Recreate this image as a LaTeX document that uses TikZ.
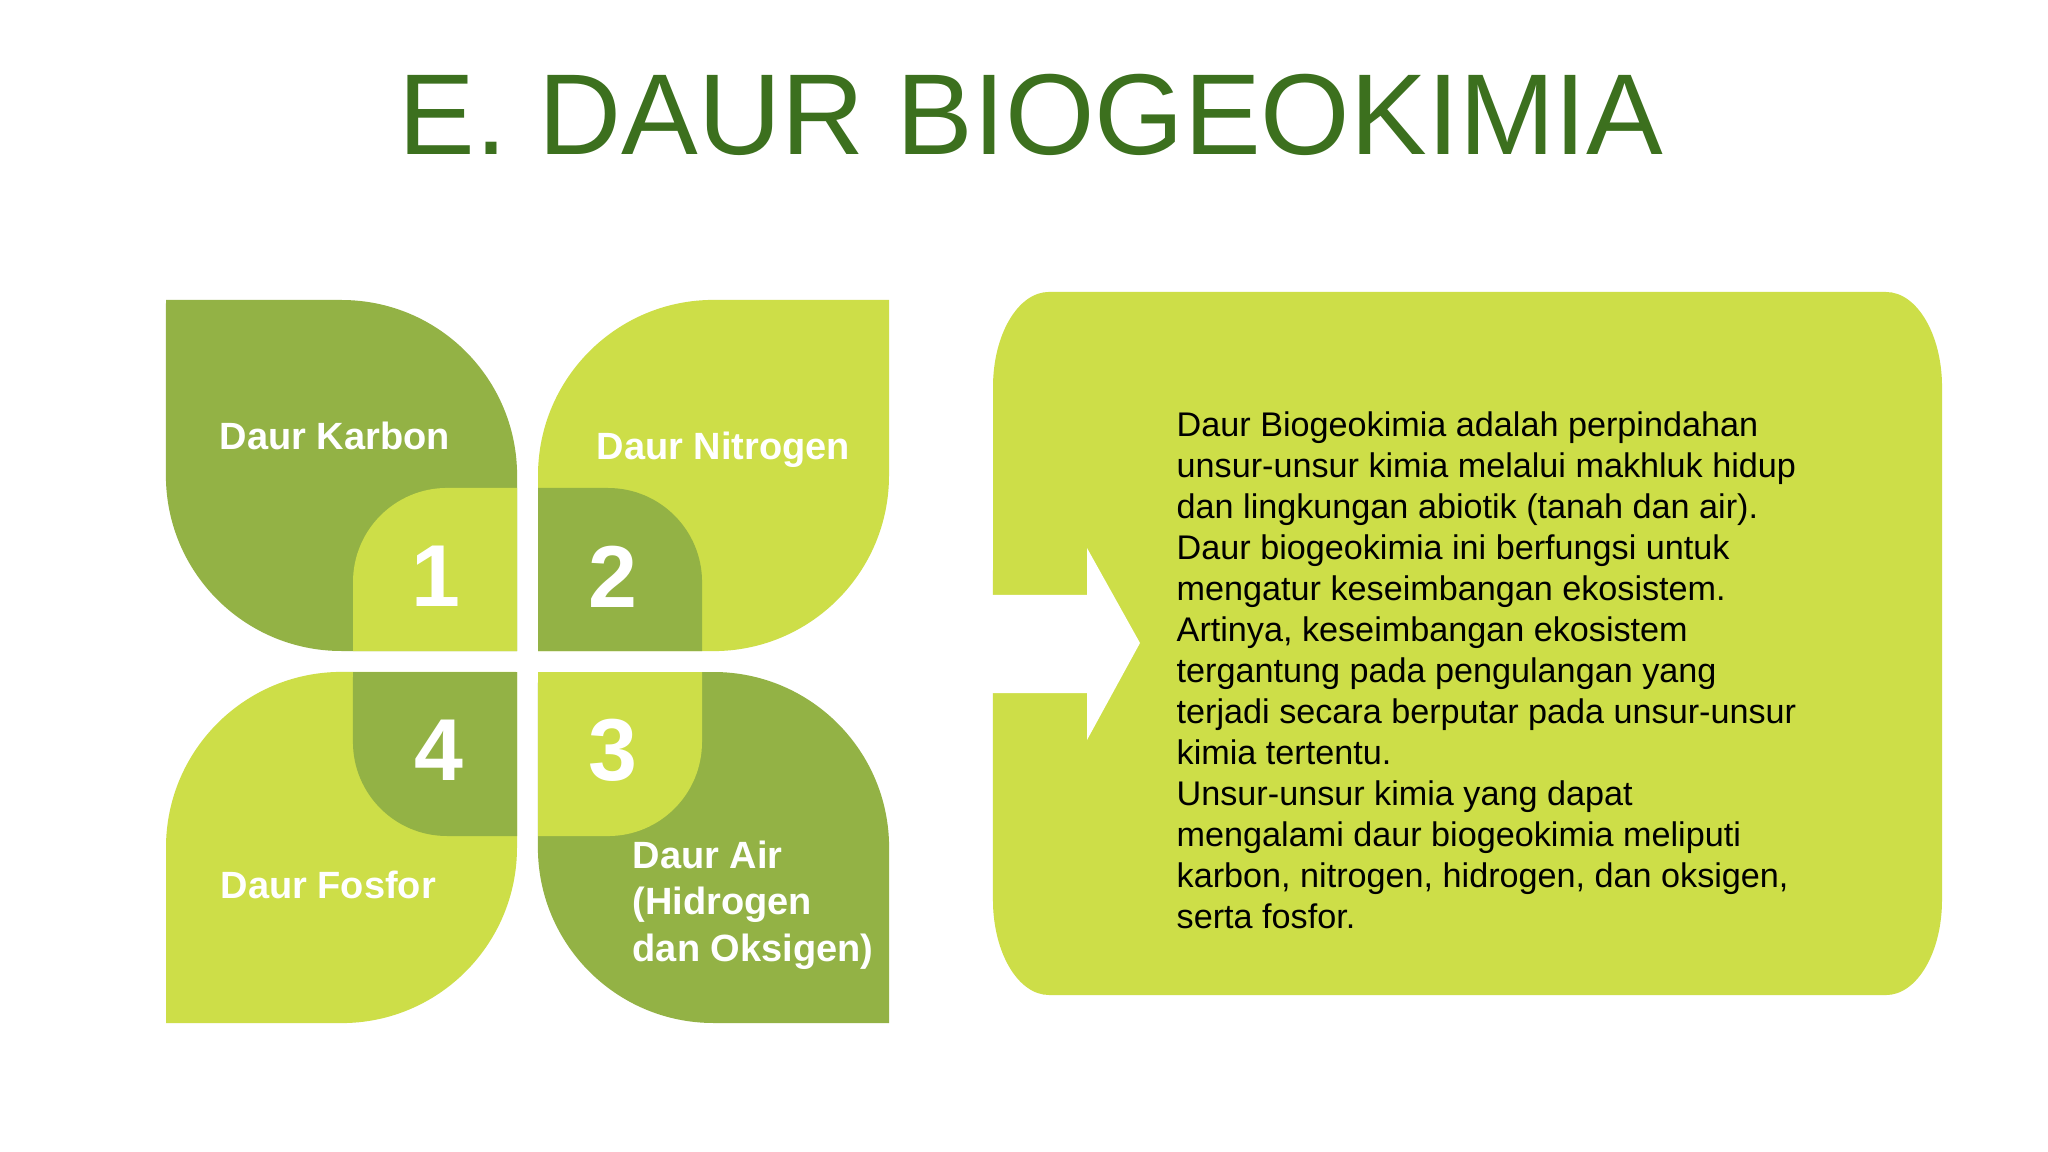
\documentclass[tikz,border=0pt]{standalone}
\usepackage{fontspec}
\setmainfont{Liberation Sans}
\usepackage{tikz}
\usetikzlibrary{positioning,calc}
\definecolor{leafdark}{HTML}{93B245}
\definecolor{leaflight}{HTML}{CDDE48}
\definecolor{titlegreen}{HTML}{3C701E}

\begin{document}
\begin{tikzpicture}[x=0.01cm,y=-0.01cm,
  heading/.style={inner sep=0pt,text=titlegreen,font=\fontsize{32.7}{39}\selectfont},
  leaftext/.style={inner sep=0pt,text=white,align=left,font=\bfseries\fontsize{10.8}{13.1}\selectfont},
  numtext/.style={inner sep=0pt,text=white,font=\bfseries\fontsize{25}{30}\selectfont},
  desctext/.style={inner sep=0pt,text=black,align=left,font=\fontsize{9.72}{11.65}\selectfont}]
\fill[white] (0,0) rectangle (2048,1152);
\node[heading,anchor=base] (title) at (1031,155) {E. DAUR BIOGEOKIMIA};
% leaves
\fill[leafdark] (166,300) -- (341.5,300) arc[start angle=90,end angle=0,radius=1.755cm] -- (517,651) -- (341.5,651) arc[start angle=270,end angle=180,radius=1.755cm] -- cycle;
\fill[leaflight] (538,475.5) arc[start angle=180,end angle=90,radius=1.755cm] -- (889,300) -- (889,475.5) arc[start angle=0,end angle=-90,radius=1.755cm] -- (538,651) -- cycle;
\fill[leafdark] (538,672) -- (713.5,672) arc[start angle=90,end angle=0,radius=1.755cm] -- (889,1023) -- (713.5,1023) arc[start angle=270,end angle=180,radius=1.755cm] -- cycle;
\fill[leaflight] (166,847.5) arc[start angle=180,end angle=90,radius=1.755cm] -- (517,672) -- (517,847.5) arc[start angle=0,end angle=-90,radius=1.755cm] -- (166,1023) -- cycle;
% inner pieces
\fill[leaflight] (353,582) arc[start angle=180,end angle=90,radius=0.94cm] -- (517,488) -- (517,651) -- (353,651) -- cycle;
\fill[leafdark] (538,488) -- (608,488) arc[start angle=90,end angle=0,radius=0.94cm] -- (702,651) -- (538,651) -- cycle;
\fill[leaflight] (538,672) -- (702,672) -- (702,742) arc[start angle=0,end angle=-90,radius=0.94cm] -- (538,836) -- cycle;
\fill[leafdark] (517,672) -- (517,836) -- (447,836) arc[start angle=270,end angle=180,radius=0.94cm] -- (353,672) -- cycle;
\node[numtext] (n1) at (436,576) {1};
\node[numtext] (n2) at (613,577) {2};
\node[numtext] (n3) at (613,750) {3};
\node[numtext] (n4) at (439,750) {4};
\node[leaftext,anchor=base west] (karbon) at (219,450) {Daur Karbon};
\node[leaftext,anchor=base west] (nitrogen) at (596,460) {Daur Nitrogen};
\node[leaftext,anchor=base west] (fosfor) at (220,898) {Daur Fosfor};
% base of a multi-line node = last line
\node[leaftext,anchor=base west] (air) at (632,961) {Daur Air\\(Hidrogen\\dan Oksigen)};
% panel with arrow
\fill[leaflight] (1049,292) -- (1886,292) arc[start angle=90,end angle=0,x radius=0.56cm,y radius=0.95cm] -- (1942,900) arc[start angle=0,end angle=-90,x radius=0.56cm,y radius=0.95cm] -- (1049,995) arc[start angle=270,end angle=180,x radius=0.56cm,y radius=0.95cm] -- (993,387) arc[start angle=180,end angle=90,x radius=0.56cm,y radius=0.95cm] -- cycle;
\fill[white] (990,595) -- (1087,595) -- (1087,548) -- (1140,643) -- (1087,740) -- (1087,693) -- (990,693) -- cycle;
\node[desctext,anchor=base west] (desc) at (1176,928) {Daur Biogeokimia adalah perpindahan\\
unsur-unsur kimia melalui makhluk hidup\\
dan lingkungan abiotik (tanah dan air).\\
Daur biogeokimia ini berfungsi untuk\\
mengatur keseimbangan ekosistem.\\
Artinya, keseimbangan ekosistem\\
tergantung pada pengulangan yang\\
terjadi secara berputar pada unsur-unsur\\
kimia tertentu.\\
Unsur-unsur kimia yang dapat\\
mengalami daur biogeokimia meliputi\\
karbon, nitrogen, hidrogen, dan oksigen,\\
serta fosfor.};
\end{tikzpicture}
\end{document}
